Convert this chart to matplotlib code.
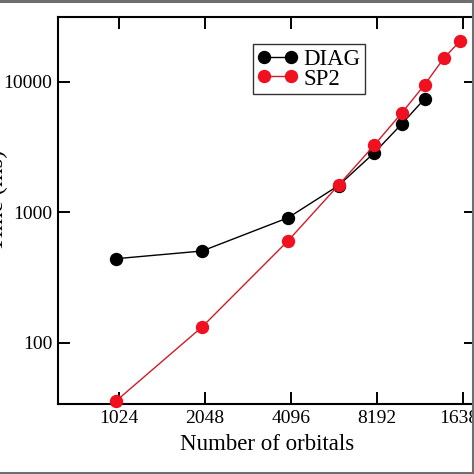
import matplotlib
matplotlib.use("Agg")
import matplotlib.pyplot as plt
from matplotlib.lines import Line2D
from matplotlib.ticker import NullLocator

# data
orbitals_diag = [1000, 2000, 4000, 6000, 8000, 10000, 12000]
time_diag = [440, 504, 907, 1600, 2850, 4760, 7390]

orbitals_sp2 = [1000, 2000, 4000, 6000, 8000, 10000, 12000, 14000, 16000]
time_sp2 = [35.7, 132, 605, 1610, 3260, 5780, 9470, 15100, 20600]

xticks = [1024, 2048, 4096, 8192, 16384]
yticks = [100, 1000, 10000]

plt.rcParams["font.family"] = ["Liberation Serif", "DejaVu Serif"]

W = 474
fig = plt.figure(figsize=(4.74, 4.74), dpi=100)
ax = fig.add_axes([58 / W, 1 - 404 / W, (476 - 58) / W, (404 - 17) / W])

ax.plot(orbitals_diag, time_diag, color="black", lw=1.0, marker="o",
        ms=8.6, mfc="black", mec="black", label="DIAG", zorder=3)
ax.plot(orbitals_sp2, time_sp2, color="#d01c28", lw=1.0, marker="o",
        ms=8.6, mfc="#f01020", mec="#f01020", label="SP2", zorder=4,
        clip_on=False)

ax.set_xscale("log", base=2)
ax.set_yscale("log")
ax.set_xlim(627, 18150)
ax.set_ylim(33.9, 31300)

ax.set_xticks(xticks)
ax.set_xticklabels([str(t) for t in xticks])
ax.set_yticks(yticks)
ax.set_yticklabels([str(t) for t in yticks])
ax.xaxis.set_minor_locator(NullLocator())
ax.yaxis.set_minor_locator(NullLocator())

ax.tick_params(which="major", direction="in", length=8.6, width=1.4,
               top=True, right=True, labelsize=14, pad=4)
for sp in ax.spines.values():
    sp.set_linewidth(1.5)

ax.set_xlabel("Number of orbitals", fontsize=16.5, labelpad=5)
fig.text(8 / W, 1 - 200 / W, "Time (ms)", rotation=90, fontsize=17.5,
         ha="right", va="center")

leg = ax.legend(loc="upper left", bbox_to_anchor=((253 - 58) / (476 - 58), (404 - 44) / (404 - 17)),
                numpoints=2, fontsize=16.5, frameon=True, fancybox=False,
                handlelength=1.75, handletextpad=0.26, borderpad=0.2,
                labelspacing=-0.05, borderaxespad=0)
leg.get_frame().set_edgecolor("black")
leg.get_frame().set_linewidth(1.0)

# grey frame remnants of the cropped page
fig.add_artist(Line2D([0, 1], [1 - 1 / W, 1 - 1 / W], color="#6e6e6e", lw=2.2))
fig.add_artist(Line2D([0, 1], [1 / W, 1 / W], color="#6e6e6e", lw=2.2))
fig.add_artist(Line2D([1 - 0.8 / W, 1 - 0.8 / W], [0, 1], color="#6e6e6e", lw=1.5))

fig.savefig("out.png", dpi=100)
